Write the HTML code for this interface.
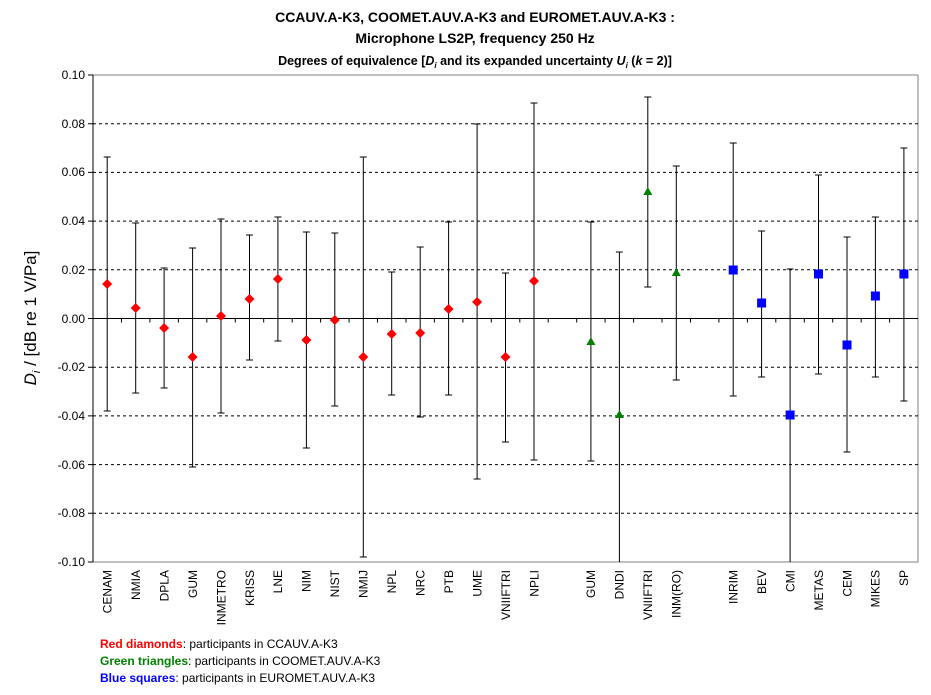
<!DOCTYPE html>
<html><head><meta charset="utf-8"><style>
body{margin:0;background:#fff;}
svg{display:block;font-family:"Liberation Sans",Arial,sans-serif;}
</style></head><body>
<svg width="931" height="695" viewBox="0 0 931 695" xmlns="http://www.w3.org/2000/svg">
<rect width="931" height="695" fill="#fff"/>
<g font-weight="bold" font-size="14" text-anchor="middle" fill="#000">
<text x="475" y="22">CCAUV.A-K3, COOMET.AUV.A-K3 and EUROMET.AUV.A-K3 :</text>
<text x="475" y="43">Microphone LS2P, frequency 250 Hz</text>
<text x="475" y="65" font-size="12.5">Degrees of equivalence [<tspan font-style="italic">D</tspan><tspan font-style="italic" font-size="8" dy="3">i</tspan><tspan dy="-3"> and its expanded uncertainty </tspan><tspan font-style="italic">U</tspan><tspan font-style="italic" font-size="8" dy="3">i</tspan><tspan dy="-3"> (</tspan><tspan font-style="italic">k</tspan> = 2)]</text>
</g>
<rect x="93" y="75" width="825" height="487" fill="none" stroke="#808080" stroke-width="1"/>
<g stroke="#000" stroke-dasharray="3,3" stroke-width="1">
<line x1="93" x2="918" y1="123.7" y2="123.7"/>
<line x1="93" x2="918" y1="172.4" y2="172.4"/>
<line x1="93" x2="918" y1="221.1" y2="221.1"/>
<line x1="93" x2="918" y1="269.8" y2="269.8"/>
<line x1="93" x2="918" y1="367.2" y2="367.2"/>
<line x1="93" x2="918" y1="415.9" y2="415.9"/>
<line x1="93" x2="918" y1="464.6" y2="464.6"/>
<line x1="93" x2="918" y1="513.3" y2="513.3"/>
</g>
<g stroke="#000" stroke-width="1">
<line x1="93" x2="93" y1="75" y2="562"/>
<line x1="93" x2="918" y1="318.5" y2="318.5"/>
<path d="M88 75H93M88 123.7H93M88 172.4H93M88 221.1H93M88 269.8H93M88 318.5H93M88 367.2H93M88 415.9H93M88 464.6H93M88 513.3H93M88 562H93"/>
<path d="M121.5 318.5v4M149.9 318.5v4M178.4 318.5v4M206.8 318.5v4M235.3 318.5v4M263.7 318.5v4M292.2 318.5v4M320.6 318.5v4M349.1 318.5v4M377.5 318.5v4M406 318.5v4M434.4 318.5v4M462.9 318.5v4M491.3 318.5v4M519.8 318.5v4M548.2 318.5v4M576.7 318.5v4M605.1 318.5v4M633.6 318.5v4M662 318.5v4M690.5 318.5v4M718.9 318.5v4M747.4 318.5v4M775.8 318.5v4M804.3 318.5v4M832.7 318.5v4M861.2 318.5v4M889.6 318.5v4"/>
</g>
<g font-size="12" text-anchor="end" fill="#000">
<text x="85" y="79">0.10</text><text x="85" y="128">0.08</text><text x="85" y="176">0.06</text><text x="85" y="225">0.04</text><text x="85" y="274">0.02</text><text x="85" y="323">0.00</text><text x="85" y="371">-0.02</text><text x="85" y="420">-0.04</text><text x="85" y="469">-0.06</text><text x="85" y="517">-0.08</text><text x="85" y="566">-0.10</text>
</g>
<text transform="translate(36,318) rotate(-90)" text-anchor="middle" font-size="17" fill="#000"><tspan font-style="italic">D</tspan><tspan font-style="italic" font-size="11" dy="4">i</tspan><tspan dy="-4"> / [dB re 1 V/Pa]</tspan></text>
<g stroke="#000" stroke-width="1" fill="none" id="eb">
<path d="M107.2 157V411M103.7 157h7M103.7 411h7"/>
<path d="M135.7 223V393M132.2 223h7M132.2 393h7"/>
<path d="M164.1 268V388M160.6 268h7M160.6 388h7"/>
<path d="M192.6 248V467M189.1 248h7M189.1 467h7"/>
<path d="M221 219V413M217.5 219h7M217.5 413h7"/>
<path d="M249.5 235V360M246 235h7M246 360h7"/>
<path d="M277.9 217V341M274.4 217h7M274.4 341h7"/>
<path d="M306.4 232V448M302.9 232h7M302.9 448h7"/>
<path d="M334.8 233V406M331.3 233h7M331.3 406h7"/>
<path d="M363.3 157V557M359.8 157h7M359.8 557h7"/>
<path d="M391.7 272V395M388.2 272h7M388.2 395h7"/>
<path d="M420.2 247V417M416.7 247h7M416.7 417h7"/>
<path d="M448.6 222V395M445.1 222h7M445.1 395h7"/>
<path d="M477.1 124V479M473.6 124h7M473.6 479h7"/>
<path d="M505.5 273V442M502 273h7M502 442h7"/>
<path d="M534 103V460M530.5 103h7M530.5 460h7"/>
<path d="M590.9 222V461M587.4 222h7M587.4 461h7"/>
<path d="M619.4 252V562M615.9 252h7"/>
<path d="M647.8 97V287M644.3 97h7M644.3 287h7"/>
<path d="M676.3 166V380M672.8 166h7M672.8 380h7"/>
<path d="M733.2 143V396M729.7 143h7M729.7 396h7"/>
<path d="M761.6 231V377M758.1 231h7M758.1 377h7"/>
<path d="M790.1 269V562M786.6 269h7"/>
<path d="M818.5 175V374M815 175h7M815 374h7"/>
<path d="M847 237V452M843.5 237h7M843.5 452h7"/>
<path d="M875.4 217V377M871.9 217h7M871.9 377h7"/>
<path d="M903.9 148V401M900.4 148h7M900.4 401h7"/>
</g>
<g fill="#ff0000">
<path d="M107.2 279l5 5-5 5-5-5z"/>
<path d="M135.7 303l5 5-5 5-5-5z"/>
<path d="M164.1 323l5 5-5 5-5-5z"/>
<path d="M192.6 352l5 5-5 5-5-5z"/>
<path d="M221 311l5 5-5 5-5-5z"/>
<path d="M249.5 294l5 5-5 5-5-5z"/>
<path d="M277.9 274l5 5-5 5-5-5z"/>
<path d="M306.4 335l5 5-5 5-5-5z"/>
<path d="M334.8 315l5 5-5 5-5-5z"/>
<path d="M363.3 352l5 5-5 5-5-5z"/>
<path d="M391.7 329l5 5-5 5-5-5z"/>
<path d="M420.2 328l5 5-5 5-5-5z"/>
<path d="M448.6 304l5 5-5 5-5-5z"/>
<path d="M477.1 297l5 5-5 5-5-5z"/>
<path d="M505.5 352l5 5-5 5-5-5z"/>
<path d="M534 276l5 5-5 5-5-5z"/>
</g>
<g fill="#008000">
<path d="M590.9 337l4.5 8h-9z"/>
<path d="M619.4 410l4.5 8h-9z"/>
<path d="M647.8 187l4.5 8h-9z"/>
<path d="M676.3 268l4.5 8h-9z"/>
</g>
<g fill="#0000ff">
<rect x="728.7" y="265.5" width="9" height="9"/>
<rect x="757.1" y="298.5" width="9" height="9"/>
<rect x="785.6" y="410.5" width="9" height="9"/>
<rect x="814" y="269.5" width="9" height="9"/>
<rect x="842.5" y="340.5" width="9" height="9"/>
<rect x="870.9" y="291.5" width="9" height="9"/>
<rect x="899.4" y="269.5" width="9" height="9"/>
</g>
<g font-size="12" text-anchor="end" fill="#000">
<text transform="translate(111.5,570) rotate(-90)">CENAM</text>
<text transform="translate(140,570) rotate(-90)">NMIA</text>
<text transform="translate(168.4,570) rotate(-90)">DPLA</text>
<text transform="translate(196.9,570) rotate(-90)">GUM</text>
<text transform="translate(225.3,570) rotate(-90)">INMETRO</text>
<text transform="translate(253.8,570) rotate(-90)">KRISS</text>
<text transform="translate(282.2,570) rotate(-90)">LNE</text>
<text transform="translate(310.7,570) rotate(-90)">NIM</text>
<text transform="translate(339.1,570) rotate(-90)">NIST</text>
<text transform="translate(367.6,570) rotate(-90)">NMIJ</text>
<text transform="translate(396,570) rotate(-90)">NPL</text>
<text transform="translate(424.5,570) rotate(-90)">NRC</text>
<text transform="translate(452.9,570) rotate(-90)">PTB</text>
<text transform="translate(481.4,570) rotate(-90)">UME</text>
<text transform="translate(509.8,570) rotate(-90)">VNIIFTRI</text>
<text transform="translate(538.3,570) rotate(-90)">NPLI</text>
<text transform="translate(595.2,570) rotate(-90)">GUM</text>
<text transform="translate(623.7,570) rotate(-90)">DNDI</text>
<text transform="translate(652.1,570) rotate(-90)">VNIIFTRI</text>
<text transform="translate(680.6,570) rotate(-90)">INM(RO)</text>
<text transform="translate(737.5,570) rotate(-90)">INRIM</text>
<text transform="translate(765.9,570) rotate(-90)">BEV</text>
<text transform="translate(794.4,570) rotate(-90)">CMI</text>
<text transform="translate(822.8,570) rotate(-90)">METAS</text>
<text transform="translate(851.3,570) rotate(-90)">CEM</text>
<text transform="translate(879.7,570) rotate(-90)">MIKES</text>
<text transform="translate(908.2,570) rotate(-90)">SP</text>
</g>
<g font-size="12" fill="#000">
<text x="100" y="648"><tspan fill="#ff0000" font-weight="bold">Red diamonds</tspan>: participants in CCAUV.A-K3</text>
<text x="100" y="665"><tspan fill="#008000" font-weight="bold">Green triangles</tspan>: participants in COOMET.AUV.A-K3</text>
<text x="100" y="682"><tspan fill="#0000ff" font-weight="bold">Blue squares</tspan>: participants in EUROMET.AUV.A-K3</text>
</g>
</svg>
</body></html>
